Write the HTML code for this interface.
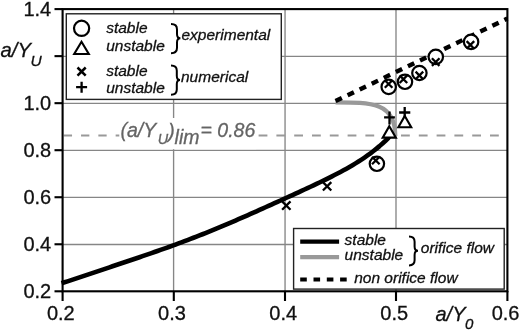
<!DOCTYPE html>
<html><head><meta charset="utf-8"><title>a/Y plot</title>
<style>html,body{margin:0;padding:0;background:#fff;width:520px;height:332px;overflow:hidden}svg{display:block}</style>
</head><body>
<svg width="520" height="332" viewBox="0 0 520 332"><rect x="0" y="0" width="520" height="332" fill="#fff"/>
<line x1="173.60" y1="9" x2="173.60" y2="291" stroke="#868686" stroke-width="1.35"/>
<line x1="285.05" y1="9" x2="285.05" y2="291" stroke="#868686" stroke-width="1.35"/>
<line x1="396.00" y1="9" x2="396.00" y2="291" stroke="#868686" stroke-width="1.35"/>
<line x1="62" y1="244.47" x2="507" y2="244.47" stroke="#868686" stroke-width="1.35"/>
<line x1="62" y1="197.43" x2="507" y2="197.43" stroke="#868686" stroke-width="1.35"/>
<line x1="62" y1="150.40" x2="507" y2="150.40" stroke="#868686" stroke-width="1.35"/>
<line x1="62" y1="103.37" x2="507" y2="103.37" stroke="#868686" stroke-width="1.35"/>
<line x1="62" y1="56.33" x2="507" y2="56.33" stroke="#868686" stroke-width="1.35"/>
<line x1="63.75" y1="135.5" x2="119.5" y2="135.5" stroke="#999" stroke-width="2.1" stroke-dasharray="8.3 9.0"/>
<line x1="258.6" y1="135.5" x2="507" y2="135.5" stroke="#999" stroke-width="2.1" stroke-dasharray="8.8 9.0"/>
<rect x="119.6" y="118" width="136.6" height="31.2" fill="#fff"/>
<text x="120.5" y="137" font-family="Liberation Sans, Arial, sans-serif" font-size="19.5" font-style="italic" fill="#646464" stroke="#646464" stroke-width="0.30">(a/Y</text>
<text x="157.8" y="144.3" font-family="Liberation Sans, Arial, sans-serif" font-size="14.4" font-style="italic" fill="#646464" stroke="#646464" stroke-width="0.30">U</text>
<text x="168.2" y="138.0" font-family="Liberation Sans, Arial, sans-serif" font-size="19.5" font-style="italic" fill="#646464" stroke="#646464" stroke-width="0.30">)</text>
<text x="174.6" y="144.2" font-family="Liberation Sans, Arial, sans-serif" font-size="19.5" font-style="italic" fill="#646464" stroke="#646464" stroke-width="0.30">lim</text>
<text x="200.5" y="137.2" font-family="Liberation Sans, Arial, sans-serif" font-size="19.5" font-style="italic" fill="#646464" stroke="#646464" stroke-width="0.30">= 0.86</text>
<path d="M61.50,283.22 L64.50,282.28 L67.50,281.32 L70.50,280.34 L73.50,279.36 L76.50,278.37 L79.50,277.38 L82.50,276.38 L85.50,275.37 L88.50,274.37 L91.50,273.36 L94.50,272.35 L97.50,271.34 L100.50,270.33 L103.50,269.33 L106.50,268.32 L109.50,267.31 L112.50,266.30 L115.50,265.29 L118.50,264.29 L121.50,263.28 L124.50,262.27 L127.50,261.26 L130.50,260.25 L133.50,259.24 L136.50,258.22 L139.50,257.20 L142.50,256.18 L145.50,255.15 L148.50,254.12 L151.50,253.09 L154.50,252.04 L157.50,251.00 L160.50,249.94 L163.50,248.88 L166.50,247.81 L169.50,246.73 L172.50,245.64 L175.50,244.55 L178.50,243.44 L181.50,242.33 L184.50,241.20 L187.50,240.07 L190.50,238.92 L193.50,237.77 L196.50,236.60 L199.50,235.42 L202.50,234.24 L205.50,233.04 L208.50,231.83 L211.50,230.61 L214.50,229.38 L217.50,228.14 L220.50,226.89 L223.50,225.63 L226.50,224.37 L229.50,223.09 L232.50,221.81 L235.50,220.52 L238.50,219.22 L241.50,217.91 L244.50,216.60 L247.50,215.28 L250.50,213.96 L253.50,212.63 L256.50,211.29 L259.50,209.95 L262.50,208.61 L265.50,207.27 L268.50,205.92 L271.50,204.57 L274.50,203.21 L277.50,201.86 L280.50,200.50 L283.50,199.14 L286.50,197.77 L289.50,196.41 L292.50,195.04 L295.50,193.67 L298.50,192.29 L301.50,190.91 L304.50,189.52 L307.50,188.13 L310.50,186.73 L313.50,185.32 L316.50,183.91 L319.50,182.48 L322.50,181.03 L325.50,179.57 L328.50,178.09 L331.50,176.59 L334.50,175.07 L337.50,173.51 L340.50,171.93 L343.50,170.31 L346.50,168.65 L349.50,166.94 L352.50,165.19 L355.50,163.38 L358.50,161.51 L361.50,159.57 L364.50,157.56 L367.50,155.47 L370.50,153.29 L373.50,151.01 L376.50,148.63 L379.50,146.13 L382.50,143.51 L385.50,140.75 L388.00,138.34 L391.5,133.5" stroke="#000" stroke-width="4.6" fill="none" stroke-linejoin="round"/>
<path d="M395.30,136.00 C395.30,102.29 371.11,102.32 335.50,102.32" stroke="#999" stroke-width="4.2" fill="none"/>
<line x1="335.54" y1="101.01" x2="507.4" y2="18.59" stroke="#000" stroke-width="4.4" stroke-dasharray="7 6.38"/>
<path d="M282.10,201.40L290.50,209.80M282.10,209.80L290.50,201.40" stroke="#000" stroke-width="2.3" fill="none"/>
<path d="M322.90,182.10L331.30,190.50M322.90,190.50L331.30,182.10" stroke="#000" stroke-width="2.3" fill="none"/>
<circle cx="376.90" cy="163.80" r="7.20" stroke="#000" stroke-width="2.2" fill="#fff"/>
<path d="M372.00,156.70L379.60,164.30M372.00,164.30L379.60,156.70" stroke="#000" stroke-width="2.3" fill="none"/>
<path d="M389.30,126.20L395.90,137.60L382.70,137.60Z" stroke="#000" stroke-width="2.1" fill="#fff" stroke-linejoin="miter"/>
<path d="M384.1,117.4L394.9,117.4M389.5,111.6L389.5,124.6" stroke="#000" stroke-width="2.3" fill="none"/>
<path d="M404.80,115.90L411.25,127.30L398.35,127.30Z" stroke="#000" stroke-width="2.1" fill="#fff" stroke-linejoin="miter"/>
<path d="M399.10,112.50L410.30,112.50M404.70,106.90L404.70,118.10" stroke="#000" stroke-width="2.3" fill="none"/>
<circle cx="388.70" cy="86.90" r="7.20" stroke="#000" stroke-width="2.2" fill="#fff"/>
<path d="M384.80,80.20L392.40,87.80M384.80,87.80L392.40,80.20" stroke="#000" stroke-width="2.3" fill="none"/>
<circle cx="405.00" cy="81.80" r="7.20" stroke="#000" stroke-width="2.2" fill="#fff"/>
<path d="M399.60,75.40L407.20,83.00M399.60,83.00L407.20,75.40" stroke="#000" stroke-width="2.3" fill="none"/>
<circle cx="419.40" cy="73.00" r="7.20" stroke="#000" stroke-width="2.2" fill="#fff"/>
<path d="M415.60,71.60L423.20,79.20M415.60,79.20L423.20,71.60" stroke="#000" stroke-width="2.3" fill="none"/>
<circle cx="435.80" cy="56.90" r="7.20" stroke="#000" stroke-width="2.2" fill="#fff"/>
<path d="M431.90,58.30L439.50,65.90M431.90,65.90L439.50,58.30" stroke="#000" stroke-width="2.3" fill="none"/>
<circle cx="471.10" cy="41.90" r="7.20" stroke="#000" stroke-width="2.2" fill="#fff"/>
<path d="M466.60,41.10L474.20,48.70M466.60,48.70L474.20,41.10" stroke="#000" stroke-width="2.3" fill="none"/>
<rect x="66.3" y="13.8" width="215.0" height="85.6" fill="#fff" stroke="#222" stroke-width="1.4"/>
<circle cx="81.60" cy="28.30" r="7.60" stroke="#000" stroke-width="2.2" fill="#fff"/>
<path d="M81.50,41.70L88.80,54.00L74.20,54.00Z" stroke="#000" stroke-width="2.1" fill="#fff" stroke-linejoin="miter"/>
<path d="M77.50,67.50L85.70,75.70M77.50,75.70L85.70,67.50" stroke="#000" stroke-width="2.5" fill="none"/>
<path d="M76.10,87.20L87.10,87.20M81.60,81.70L81.60,92.70" stroke="#000" stroke-width="2.3" fill="none"/>
<text x="106.2" y="33.4" font-family="Liberation Sans, Arial, sans-serif" font-size="15.5" font-style="italic" fill="#111" stroke="#111" stroke-width="0.30">stable</text>
<text x="106.2" y="50.7" font-family="Liberation Sans, Arial, sans-serif" font-size="15.5" font-style="italic" fill="#111" stroke="#111" stroke-width="0.30">unstable</text>
<text x="106.2" y="75.5" font-family="Liberation Sans, Arial, sans-serif" font-size="15.5" font-style="italic" fill="#111" stroke="#111" stroke-width="0.30">stable</text>
<text x="106.2" y="92.5" font-family="Liberation Sans, Arial, sans-serif" font-size="15.5" font-style="italic" fill="#111" stroke="#111" stroke-width="0.30">unstable</text>
<text x="181.5" y="40.0" font-family="Liberation Sans, Arial, sans-serif" font-size="15.5" font-style="italic" fill="#111" stroke="#111" stroke-width="0.30">experimental</text>
<text x="181.0" y="82.0" font-family="Liberation Sans, Arial, sans-serif" font-size="15.5" font-style="italic" fill="#111" stroke="#111" stroke-width="0.30">numerical</text>
<path d="M171.00,24.00 C174.30,24.00 177.00,25.80 177.00,29.40 L177.00,34.10 C177.00,37.10 178.20,38.30 180.40,38.30 C178.20,38.30 177.00,39.50 177.00,42.50 L177.00,47.80 C177.00,51.40 174.30,53.20 171.00,53.20" stroke="#000" stroke-width="2.00" fill="none"/>
<path d="M171.00,65.60 C174.19,65.60 176.80,67.34 176.80,70.82 L176.80,75.70 C176.80,78.70 178.00,79.90 180.00,79.90 C178.00,79.90 176.80,81.10 176.80,84.10 L176.80,89.58 C176.80,93.06 174.19,94.80 171.00,94.80" stroke="#000" stroke-width="2.00" fill="none"/>
<rect x="293.6" y="228.5" width="210.6" height="60.6" fill="#fff" stroke="#222" stroke-width="1.4"/>
<line x1="300.2" y1="241.6" x2="339.1" y2="241.6" stroke="#000" stroke-width="4.4"/>
<line x1="300.2" y1="257.1" x2="339.1" y2="257.1" stroke="#999" stroke-width="4.4"/>
<line x1="300.2" y1="279.5" x2="347" y2="279.5" stroke="#000" stroke-width="4" stroke-dasharray="6.6 6.7"/>
<text x="344.6" y="244.8" font-family="Liberation Sans, Arial, sans-serif" font-size="15.5" font-style="italic" fill="#111" stroke="#111" stroke-width="0.30">stable</text>
<text x="344.6" y="260.3" font-family="Liberation Sans, Arial, sans-serif" font-size="15.5" font-style="italic" fill="#111" stroke="#111" stroke-width="0.30">unstable</text>
<text x="420.8" y="253.3" font-family="Liberation Sans, Arial, sans-serif" font-size="15.5" font-style="italic" fill="#111" stroke="#111" stroke-width="0.30">orifice flow</text>
<text x="354.2" y="283" font-family="Liberation Sans, Arial, sans-serif" font-size="15.5" font-style="italic" fill="#111" stroke="#111" stroke-width="0.30">non orifice flow</text>
<path d="M409.00,236.60 C412.08,236.60 414.60,238.28 414.60,241.64 L414.60,246.50 C414.60,249.50 415.80,250.70 418.00,250.70 C415.80,250.70 414.60,251.90 414.60,254.90 L414.60,260.36 C414.60,263.72 412.08,265.40 409.00,265.40" stroke="#000" stroke-width="2.00" fill="none"/>
<rect x="62.6" y="9.1" width="444.8" height="282.2" fill="none" stroke="#000" stroke-width="2.1"/>
<line x1="54.5" y1="244.27" x2="62.6" y2="244.27" stroke="#000" stroke-width="2.1"/>
<line x1="54.5" y1="197.23" x2="62.6" y2="197.23" stroke="#000" stroke-width="2.1"/>
<line x1="54.5" y1="150.20" x2="62.6" y2="150.20" stroke="#000" stroke-width="2.1"/>
<line x1="54.5" y1="103.17" x2="62.6" y2="103.17" stroke="#000" stroke-width="2.1"/>
<line x1="54.5" y1="56.13" x2="62.6" y2="56.13" stroke="#000" stroke-width="2.1"/>
<line x1="54.5" y1="9.10" x2="62.6" y2="9.10" stroke="#000" stroke-width="2.1"/>
<line x1="54.5" y1="291.30" x2="62.6" y2="291.30" stroke="#000" stroke-width="2.1"/>
<line x1="62.60" y1="291" x2="62.60" y2="301" stroke="#000" stroke-width="2.1"/>
<line x1="173.80" y1="291" x2="173.80" y2="301" stroke="#000" stroke-width="2.1"/>
<line x1="285.00" y1="291" x2="285.00" y2="301" stroke="#000" stroke-width="2.1"/>
<line x1="396.00" y1="291" x2="396.00" y2="301" stroke="#000" stroke-width="2.1"/>
<line x1="507.40" y1="291" x2="507.40" y2="301" stroke="#000" stroke-width="2.1"/>
<text x="51.2" y="15.60" text-anchor="end" font-family="Liberation Sans, Arial, sans-serif" font-size="20" fill="#111" stroke="#111" stroke-width="0.30">1.4</text>
<text x="51.2" y="109.67" text-anchor="end" font-family="Liberation Sans, Arial, sans-serif" font-size="20" fill="#111" stroke="#111" stroke-width="0.30">1.0</text>
<text x="51.2" y="156.70" text-anchor="end" font-family="Liberation Sans, Arial, sans-serif" font-size="20" fill="#111" stroke="#111" stroke-width="0.30">0.8</text>
<text x="51.2" y="203.73" text-anchor="end" font-family="Liberation Sans, Arial, sans-serif" font-size="20" fill="#111" stroke="#111" stroke-width="0.30">0.6</text>
<text x="51.2" y="250.77" text-anchor="end" font-family="Liberation Sans, Arial, sans-serif" font-size="20" fill="#111" stroke="#111" stroke-width="0.30">0.4</text>
<text x="51.2" y="297.80" text-anchor="end" font-family="Liberation Sans, Arial, sans-serif" font-size="20" fill="#111" stroke="#111" stroke-width="0.30">0.2</text>
<text x="60.80" y="320.0" text-anchor="middle" font-family="Liberation Sans, Arial, sans-serif" font-size="20" fill="#111" stroke="#111" stroke-width="0.30">0.2</text>
<text x="172.00" y="320.0" text-anchor="middle" font-family="Liberation Sans, Arial, sans-serif" font-size="20" fill="#111" stroke="#111" stroke-width="0.30">0.3</text>
<text x="283.20" y="320.0" text-anchor="middle" font-family="Liberation Sans, Arial, sans-serif" font-size="20" fill="#111" stroke="#111" stroke-width="0.30">0.4</text>
<text x="394.20" y="320.0" text-anchor="middle" font-family="Liberation Sans, Arial, sans-serif" font-size="20" fill="#111" stroke="#111" stroke-width="0.30">0.5</text>
<text x="505.60" y="320.0" text-anchor="middle" font-family="Liberation Sans, Arial, sans-serif" font-size="20" fill="#111" stroke="#111" stroke-width="0.30">0.6</text>
<text x="0.6" y="57.0" font-family="Liberation Sans, Arial, sans-serif" font-size="20.3" font-style="italic" fill="#111" stroke="#111" stroke-width="0.30">a/Y</text>
<text x="30.6" y="65.6" font-family="Liberation Sans, Arial, sans-serif" font-size="15.5" font-style="italic" fill="#111" stroke="#111" stroke-width="0.30">U</text>
<text x="435.5" y="320.6" font-family="Liberation Sans, Arial, sans-serif" font-size="20" font-style="italic" fill="#111" stroke="#111" stroke-width="0.30">a/Y</text>
<text x="465" y="328.7" font-family="Liberation Sans, Arial, sans-serif" font-size="15" font-style="italic" fill="#111" stroke="#111" stroke-width="0.30">0</text></svg>
</body></html>
